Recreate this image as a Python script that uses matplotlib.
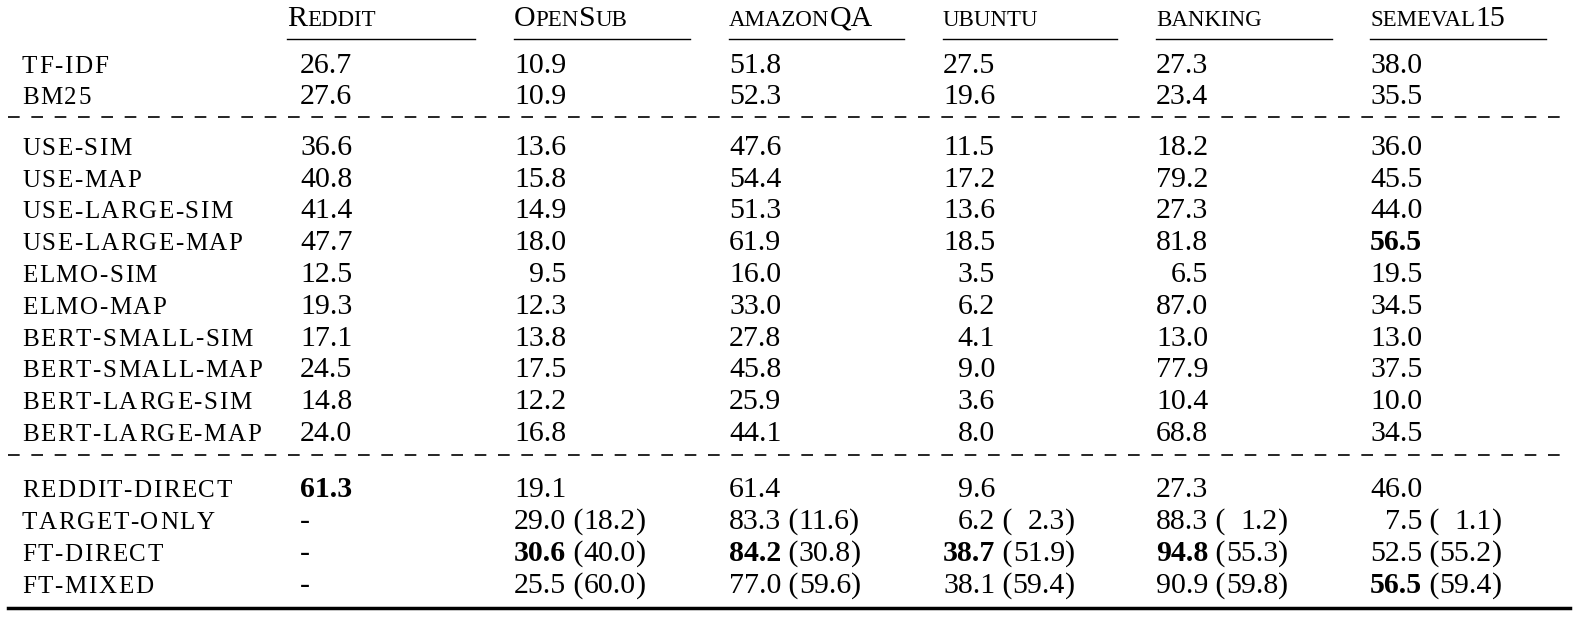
import matplotlib
matplotlib.use("Agg")
import matplotlib.pyplot as plt
from matplotlib.lines import Line2D

W, H = 1578, 619
SERIF = "Liberation Serif"
FS = 21.5
SC = 16.5
LBL = 18

# headers: (big letters, small caps) pieces
headers = [
    [("R", FS), ("EDDIT", SC)],
    [("O", FS), ("PEN", SC), ("S", FS), ("UB", SC)],
    [("AMAZON", SC), ("QA", FS)],
    [("UBUNTU", SC)],
    [("BANKING", SC)],
    [("SEMEVAL", SC), ("15", FS)],
]
group1 = ["TF-IDF", "BM25"]
group2 = ["USE-SIM", "USE-MAP", "USE-LARGE-SIM", "USE-LARGE-MAP", "ELMO-SIM",
          "ELMO-MAP", "BERT-SMALL-SIM", "BERT-SMALL-MAP", "BERT-LARGE-SIM",
          "BERT-LARGE-MAP"]
group3 = ["REDDIT-DIRECT", "TARGET-ONLY", "FT-DIRECT", "FT-MIXED"]

vals1 = [
    ["26.7", "10.9", "51.8", "27.5", "27.3", "38.0"],
    ["27.6", "10.9", "52.3", "19.6", "23.4", "35.5"],
]
vals2 = [
    ["36.6", "13.6", "47.6", "11.5", "18.2", "36.0"],
    ["40.8", "15.8", "54.4", "17.2", "79.2", "45.5"],
    ["41.4", "14.9", "51.3", "13.6", "27.3", "44.0"],
    ["47.7", "18.0", "61.9", "18.5", "81.8", "*56.5"],
    ["12.5", "9.5", "16.0", "3.5", "6.5", "19.5"],
    ["19.3", "12.3", "33.0", "6.2", "87.0", "34.5"],
    ["17.1", "13.8", "27.8", "4.1", "13.0", "13.0"],
    ["24.5", "17.5", "45.8", "9.0", "77.9", "37.5"],
    ["14.8", "12.2", "25.9", "3.6", "10.4", "10.0"],
    ["24.0", "16.8", "44.1", "8.0", "68.8", "34.5"],
]
vals3 = [
    ["*61.3", "19.1", "61.4", "9.6", "27.3", "46.0"],
    ["-", "29.0|18.2", "83.3|11.6", "6.2|2.3", "88.3|1.2", "7.5|1.1"],
    ["-", "*30.6|40.0", "*84.2|30.8", "*38.7|51.9", "*94.8|55.3", "52.5|55.2"],
    ["-", "25.5|60.0", "77.0|59.6", "38.1|59.4", "90.9|59.8", "*56.5|59.4"],
]

col_x = [300, 514, 729, 943, 1156, 1370]
line_spans = [(287, 475), (514, 690), (729, 904), (943, 1117), (1156, 1332), (1370, 1546)]
row_y1 = [73, 104]
row_y2 = [155 + 31.75 * i for i in range(10)]
row_y3 = [497 + 32 * i for i in range(4)]

fig = plt.figure(figsize=(W / 100, H / 100), dpi=100)
r = fig.canvas.get_renderer()


def put(x, y, s, size, weight="normal"):
    t = fig.text(x / W, 1 - y / H, s, fontsize=size, family=SERIF,
                 weight=weight, va="baseline", ha="left")
    return t.get_window_extent(r).width


def digit_w(size):
    t = fig.text(0, 0, "0", fontsize=size, family=SERIF)
    w = t.get_window_extent(r).width
    t.remove()
    return w


DW = digit_w(FS)


def put_spaced(x, y, s, size, track=1.6):
    for ch in s:
        x += put(x, y, ch, size) + track
    return x


def draw_val(x, y, v):
    if v == "-":
        put(x, y, "-", FS)
        return
    main, _, par = v.partition("|")
    bold = main.startswith("*")
    main = main.lstrip("*")
    if len(main) < 4:
        x += DW
    x += put(x, y, main, FS, "bold" if bold else "normal")
    if par:
        x += put(x, y, " (", FS)
        if len(par) < 4:
            x += DW
        x += put(x, y, par, FS)
        put(x, y, ")", FS)


for hdr, cx, (a, b) in zip(headers, col_x, line_spans):
    x = a if cx == 300 else cx
    for s, size in hdr:
        x += put(x, 26, s, size)
    fig.add_artist(Line2D([a / W, b / W], [1 - 39 / H] * 2, color="black", lw=1))

for names, vals, ys in [(group1, vals1, row_y1), (group2, vals2, row_y2), (group3, vals3, row_y3)]:
    for name, row, y in zip(names, vals, ys):
        put_spaced(22, y, name, LBL)
        for cx, v in zip(col_x, row):
            draw_val(cx, y, v)

for yy in (117, 455):
    fig.add_artist(Line2D([8 / W, 1570 / W], [1 - yy / H] * 2, color="black",
                          lw=1.2, dashes=(7, 7)))
fig.add_artist(Line2D([8 / W, 1570 / W], [1 - 608 / H] * 2, color="black", lw=2.5))

fig.savefig("out.png", dpi=100)
